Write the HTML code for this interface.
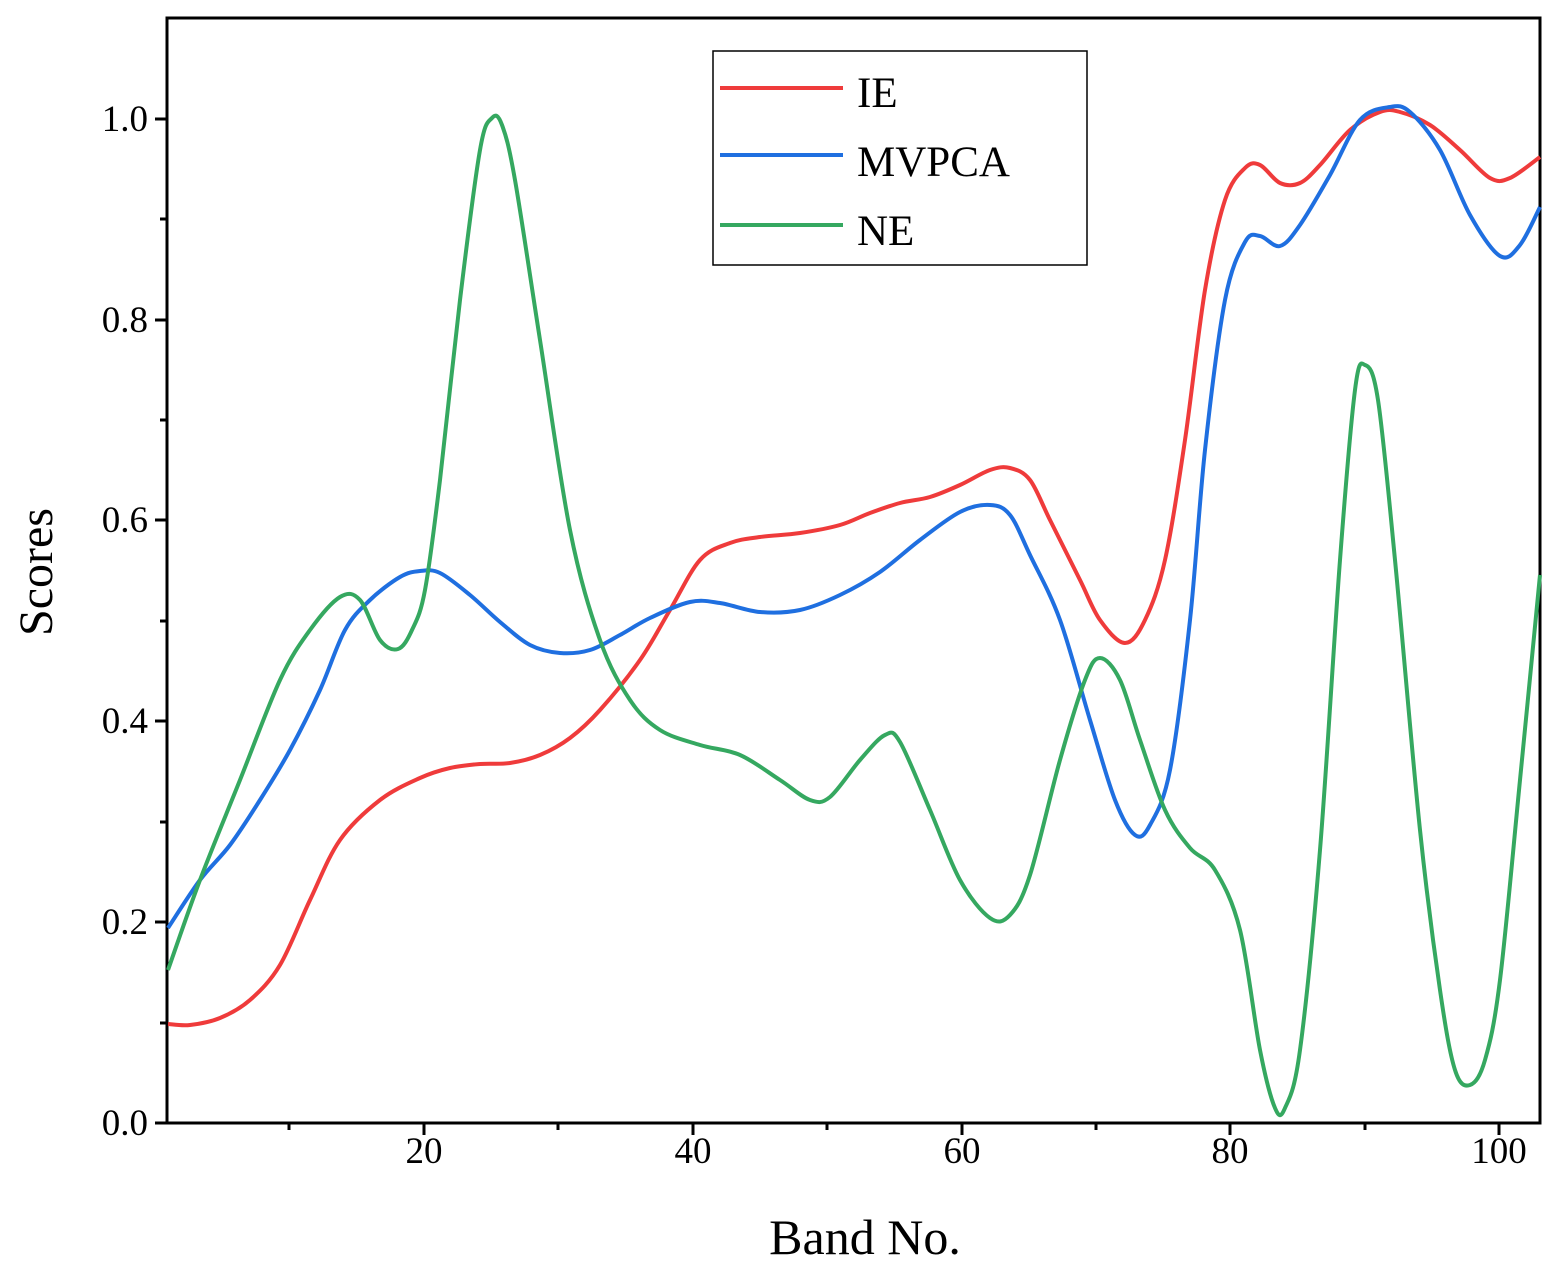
<!DOCTYPE html>
<html><head><meta charset="utf-8"><style>
html,body{margin:0;padding:0;background:#fff;}
svg{display:block;font-family:"Liberation Serif",serif;}
</style></head><body>
<svg id="s" width="1560" height="1272" viewBox="0 0 1560 1272">
<rect x="167" y="18" width="1373" height="1105" fill="none" stroke="#000" stroke-width="3"/>
<g stroke="#000" stroke-width="3">
<line x1="167" y1="1123" x2="155" y2="1123"/><line x1="167" y1="922" x2="155" y2="922"/><line x1="167" y1="721" x2="155" y2="721"/><line x1="167" y1="520" x2="155" y2="520"/><line x1="167" y1="320" x2="155" y2="320"/><line x1="167" y1="119" x2="155" y2="119"/>
<line x1="167" y1="1023" x2="160" y2="1023"/><line x1="167" y1="822" x2="160" y2="822"/><line x1="167" y1="621" x2="160" y2="621"/><line x1="167" y1="420" x2="160" y2="420"/><line x1="167" y1="219" x2="160" y2="219"/>
<line x1="424" y1="1123" x2="424" y2="1135"/><line x1="693" y1="1123" x2="693" y2="1135"/><line x1="962" y1="1123" x2="962" y2="1135"/><line x1="1230" y1="1123" x2="1230" y2="1135"/><line x1="1499" y1="1123" x2="1499" y2="1135"/>
<line x1="289" y1="1123" x2="289" y2="1130"/><line x1="558" y1="1123" x2="558" y2="1130"/><line x1="827" y1="1123" x2="827" y2="1130"/><line x1="1096" y1="1123" x2="1096" y2="1130"/><line x1="1365" y1="1123" x2="1365" y2="1130"/>
</g>
<g font-size="37" text-anchor="end" fill="#000">
<text x="148" y="1135">0.0</text><text x="148" y="934">0.2</text><text x="148" y="733">0.4</text><text x="148" y="532">0.6</text><text x="148" y="332">0.8</text><text x="148" y="131">1.0</text>
</g>
<g font-size="37" text-anchor="middle" fill="#000">
<text x="424" y="1163">20</text><text x="693" y="1163">40</text><text x="962" y="1163">60</text><text x="1230" y="1163">80</text><text x="1499" y="1163">100</text>
</g>
<text x="865" y="1254" font-size="50" text-anchor="middle">Band No.</text>
<text transform="translate(52,572) rotate(-90)" font-size="48" text-anchor="middle">Scores</text>
<g id="lines" fill="none" stroke-width="4"></g>
<rect x="713" y="51" width="374" height="214" fill="#fff" stroke="#000" stroke-width="1.5"/>
<g stroke-width="4">
<line x1="720" y1="88" x2="843" y2="88" stroke="#ef3b3b"/>
<line x1="720" y1="155" x2="843" y2="155" stroke="#1f6fe0"/>
<line x1="720" y1="225" x2="843" y2="225" stroke="#35a860"/>
</g>
<g font-size="43" fill="#000">
<text x="857" y="107">IE</text><text x="857" y="176">MVPCA</text><text x="857" y="245">NE</text>
</g>
</svg>
<script>
const R=[[168,1024],[190,1025],[220,1018],[250,1000],[280,965],[310,900],[340,840],[380,800],[420,778],[450,768],[480,764],[510,763],[540,755],[570,738],[600,710],[640,660],[670,610],[700,560],[730,543],[760,537],[800,533],[840,525],[870,513],[900,503],[930,497],[960,485],[990,470],[1010,468],[1030,480],[1050,520],[1080,580],[1100,620],[1125,643],[1145,620],[1165,560],[1185,440],[1205,290],[1225,200],[1245,168],[1260,165],[1280,183],[1300,183],[1320,165],[1350,130],[1380,112],[1400,112],[1430,125],[1460,150],[1490,178],[1510,178],[1540,157]];
const B=[[168,928],[200,880],[230,845],[260,800],[290,750],[320,690],[345,630],[370,600],[400,577],[420,571],[440,573],[470,595],[500,622],[530,645],[560,653],[590,650],[620,635],[650,618],[690,602],[720,603],[760,612],[800,610],[840,595],[880,572],[920,540],[960,512],[990,505],[1010,515],[1030,555],[1060,620],[1090,720],[1115,800],[1135,835],[1150,825],[1170,770],[1190,620],[1205,450],[1225,300],[1245,242],[1260,236],[1280,246],[1300,225],[1330,175],[1360,120],[1390,107],[1410,112],[1440,150],[1470,215],[1500,256],[1520,245],[1540,207]];
const G=[[168,970],[200,880],[240,780],[280,680],[310,630],[340,597],[360,600],[380,640],[398,649],[412,630],[425,590],[440,480],[460,300],[480,150],[492,118],[502,125],[515,180],[540,340],[570,530],[600,640],[630,700],[660,730],[700,745],[740,755],[780,780],[810,800],[830,797],[860,760],[885,735],[900,742],[930,810],[960,880],[990,918],[1010,915],[1030,875],[1060,760],[1085,680],[1100,658],[1120,680],[1140,740],[1165,810],[1190,848],[1215,870],[1240,930],[1260,1050],[1275,1108],[1285,1108],[1300,1050],[1320,850],[1340,560],[1355,390],[1365,365],[1378,400],[1395,560],[1420,830],[1440,990],[1455,1070],[1470,1085],[1485,1060],[1500,980],[1520,780],[1540,575]];
function path(p){let d="M"+p[0][0]+","+p[0][1];for(let i=0;i<p.length-1;i++){const a=p[i-1]||p[i],b=p[i],c=p[i+1],e=p[i+2]||c;d+=" C"+(b[0]+(c[0]-a[0])/6)+","+(b[1]+(c[1]-a[1])/6)+" "+(c[0]-(e[0]-b[0])/6)+","+(c[1]-(e[1]-b[1])/6)+" "+c[0]+","+c[1];}return d;}
const g=document.getElementById("lines");
[[R,"#ef3b3b"],[B,"#1f6fe0"],[G,"#35a860"]].forEach(([p,c])=>{const e=document.createElementNS("http://www.w3.org/2000/svg","path");e.setAttribute("d",path(p));e.setAttribute("stroke",c);g.appendChild(e);});
</script>
</body></html>
